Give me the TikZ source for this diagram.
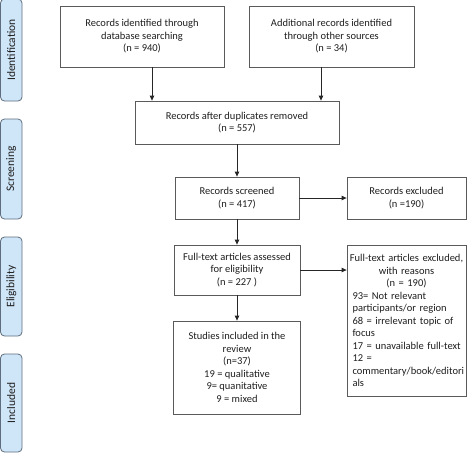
\documentclass[tikz,border=0pt]{standalone}
\usepackage{fontspec}
\setmainfont{Carlito}
\usetikzlibrary{arrows.meta}
\definecolor{phasefill}{HTML}{CFE6F8}
\definecolor{phaseline}{HTML}{5F6E7E}
\definecolor{boxline}{HTML}{5A5A5A}
\definecolor{txt}{HTML}{1E1E1E}

\begin{document}
\begin{tikzpicture}[x=1pt,y=-1pt,
  box/.style={draw=boxline,line width=0.8pt,align=center,inner sep=2pt,text=txt,
    font=\fontsize{10.5}{12.5}\selectfont},
  phase/.style={draw=phaseline,fill=phasefill,rounded corners=4pt,line width=0.8pt,
    rotate=90,minimum height=21.5pt,text=txt,font=\fontsize{11.5}{13}\selectfont},
  arr/.style={-{Triangle[length=5pt,width=4.5pt]},line width=0.8pt,draw=black!85}]
  \useasboundingbox (0,0) rectangle (474,456);
  \node[phase,minimum width=102pt] (ident) at (11.25,50) {Identification};
  \node[phase,minimum width=100pt] (screen) at (11.25,169) {Screening};
  \node[phase,minimum width=99pt] (elig) at (11.25,286.5) {Eligibility};
  \node[phase,minimum width=98pt] (incl) at (11.25,403) {Included};
  \node[box,minimum width=164pt,minimum height=61pt] (db) at (142,36.5)
    {Records identified through\\database searching\\(n = 940)};
  \node[box,minimum width=165pt,minimum height=61pt] (other) at (331.5,36.5)
    {Additional records identified\\through other sources\\(n = 34)};
  \node[box,minimum width=204pt,minimum height=43pt] (dup) at (237,122.5)
    {Records after duplicates removed\\(n = 557)};
  \node[box,minimum width=124pt,minimum height=42pt] (screened) at (237,198)
    {Records screened\\(n = 417)};
  \node[box,minimum width=119pt,minimum height=42pt] (excl) at (406.5,198)
    {Records excluded\\(n =190)};
  \node[box,minimum width=126pt,minimum height=50pt] (full) at (237,270)
    {Full-text articles assessed\\for eligibility\\(n = 227 )};
  \node[box,text width=116pt,minimum height=151pt,align=left,inner sep=1.5pt] (fullexcl) at (406.5,320.5)
    {{\centering Full-text articles excluded,\\with reasons\\(n = 190)\par}
     \raggedright\hspace*{4pt}93= Not relevant\\\hspace*{4pt}participants/or region\\
     \hspace*{4pt}68 = irrelevant topic of\\\hspace*{4pt}focus\\
     \hspace*{4pt}17 = unavailable full-text\\\hspace*{4pt}12 =\\
     \hspace*{4pt}commentary/book/editori\\\hspace*{4pt}als};
  \node[box,minimum width=127pt,minimum height=93pt] (studies) at (237,367.5)
    {Studies included in the\\review\\(n=37)\\19 = qualitative\\9= quanitative\\9 = mixed};
  \draw[arr] ([xshift=10pt]db.south) -- ([xshift=10pt]db.south |- dup.north);
  \draw[arr] ([xshift=-10.5pt]other.south) -- ([xshift=-10.5pt]other.south |- dup.north);
  \draw[arr] (dup) -- (screened);
  \draw[arr] (screened) -- (excl);
  \draw[arr] (screened) -- (full);
  \draw[arr] (full.east) -- (full.east -| fullexcl.west);
  \draw[arr] (full) -- (studies);
\end{tikzpicture}
\end{document}
